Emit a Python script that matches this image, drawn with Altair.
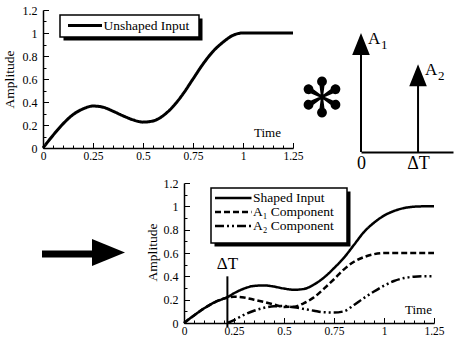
import math
import altair as alt
import pandas as pd

W, H = 474, 353
FONT = "Liberation Serif"

# ---------------- data ----------------
t_grid = [0, 0.05, 0.1, 0.15, 0.2, 0.25, 0.3, 0.35, 0.4, 0.45, 0.5, 0.55, 0.6,
          0.65, 0.7, 0.75, 0.8, 0.85, 0.9, 0.95, 1.0, 1.05, 1.1, 1.15, 1.2, 1.25]
unshaped = [0, 0.11, 0.21, 0.29, 0.34, 0.365, 0.355, 0.32, 0.28, 0.245, 0.225, 0.235, 0.28,
            0.36, 0.47, 0.60, 0.73, 0.84, 0.92, 0.98, 1.0, 1.0, 1.0, 1.0, 1.0, 1.0]

t_shaped = [0, 0.05, 0.1, 0.15, 0.2, 0.217, 0.25, 0.3, 0.35, 0.4, 0.45, 0.5, 0.55, 0.6,
            0.65, 0.7, 0.75, 0.8, 0.85, 0.9, 0.95, 1.0, 1.05, 1.1, 1.15, 1.2, 1.25]
shaped = [0, 0.065, 0.125, 0.175, 0.21, 0.222, 0.255, 0.295, 0.318, 0.322, 0.312, 0.295, 0.285, 0.292,
          0.33, 0.39, 0.47, 0.56, 0.67, 0.78, 0.86, 0.92, 0.96, 0.985, 0.997, 1.0, 1.0]

t_a1 = t_grid
a1 = [0, 0.065, 0.125, 0.175, 0.21, 0.225, 0.218, 0.2, 0.18, 0.158, 0.138, 0.14, 0.17,
      0.22, 0.295, 0.375, 0.46, 0.525, 0.565, 0.59, 0.6, 0.6, 0.6, 0.6, 0.6, 0.6]

t_a2 = [0.217, 0.25, 0.3, 0.35, 0.4, 0.45, 0.5, 0.55, 0.6, 0.65, 0.7, 0.75, 0.8,
        0.85, 0.9, 0.95, 1.0, 1.05, 1.1, 1.15, 1.2, 1.25]
a2 = [0, 0.025, 0.07, 0.105, 0.13, 0.143, 0.145, 0.135, 0.12, 0.105, 0.092, 0.09, 0.10,
      0.155, 0.215, 0.27, 0.32, 0.36, 0.385, 0.397, 0.4, 0.4]

delta_t = 0.217
impulse_t = [0, delta_t]
impulse_h = [1.0, 0.71]
impulse_sub = ["1", "2"]

x_major = [0, 0.25, 0.5, 0.75, 1.0, 1.25]
x_minor = [0.05, 0.1, 0.15, 0.2, 0.3, 0.35, 0.4, 0.45, 0.55, 0.6, 0.65, 0.7,
           0.8, 0.85, 0.9, 0.95, 1.05, 1.1, 1.15, 1.2]
y_major = [0, 0.2, 0.4, 0.6, 0.8, 1.0, 1.2]
y_minor = [0.1, 0.3, 0.5, 0.7, 0.9, 1.1]

legend_top = ["Unshaped Input"]
legend_bot = ["Shaped Input", "A₁ Component", "A₂ Component"]
dash_top = [[1, 0]]
dash_bot = [[1, 0], [6, 3], [9, 3, 2, 3, 2, 3]]

# ---------------- tables ----------------
top_df = pd.DataFrame({"t": t_grid, "amp": unshaped, "series": legend_top[0]})
bot_df = pd.concat([
    pd.DataFrame({"t": t_shaped, "amp": shaped, "series": legend_bot[0]}),
    pd.DataFrame({"t": t_a1, "amp": a1, "series": legend_bot[1]}),
    pd.DataFrame({"t": t_a2, "amp": a2, "series": legend_bot[2]}),
], ignore_index=True)
imp_df = pd.DataFrame({"t": impulse_t, "h": impulse_h, "sub": impulse_sub})
dt_df = pd.DataFrame({"t": [delta_t], "top": [0.40], "bottom": [-0.035]})
leg_top_df = pd.DataFrame({"series": legend_top, "row": list(range(len(legend_top)))})
leg_bot_df = pd.DataFrame({"series": legend_bot, "row": list(range(len(legend_bot)))})
dummy = pd.DataFrame({"k": [0]})

# ---------------- geometry ----------------
TOP_X, TOP_Y = [43, 293], [148, 10]
BOT_X, BOT_Y = [184, 434], [323, 183]
IMP_X, IMP_Y = [361, 453], [152, 44]
LABEL_EXPR = "'' + datum.value"


def sx(r):
    return alt.Scale(domain=[0, 1.25], range=r, nice=False, zero=False)


def sy(r):
    return alt.Scale(domain=[0, 1.2], range=r, nice=False, zero=False)


def axis_layers(df, xr, yr, time_xy, amp_xy):
    x0, y0 = xr[0], yr[0]
    base = alt.Chart(df).mark_line(opacity=0)
    major = base.encode(
        x=alt.X("t:Q", scale=sx(xr), axis=alt.Axis(
            orient="top", offset=-y0, values=x_major, labels=False, tickSize=5.5,
            tickWidth=1, domain=True, domainWidth=1.5, title=None)),
        y=alt.Y("amp:Q", scale=sy(yr), axis=alt.Axis(
            orient="right", offset=x0 - W, values=y_major, labels=False, tickSize=5.5,
            tickWidth=1, domain=True, domainWidth=1.5, title=None)),
    )
    minor = base.encode(
        x=alt.X("t:Q", scale=sx(xr), axis=alt.Axis(
            orient="top", offset=-y0, values=x_minor, labels=False, tickSize=3,
            tickWidth=1, domain=False, title=None)),
        y=alt.Y("amp:Q", scale=sy(yr), axis=alt.Axis(
            orient="right", offset=x0 - W, values=y_minor, labels=False, tickSize=3,
            tickWidth=1, domain=False, title=None)),
    )
    labels = base.encode(
        x=alt.X("t:Q", scale=sx(xr), axis=alt.Axis(
            orient="bottom", offset=y0 - H, values=x_major, labelExpr=LABEL_EXPR, ticks=False,
            domain=False, labelPadding=2, labelFlush=False, labelOverlap=False,
            labelFont=FONT, labelFontSize=11.5, title="Time", titleFont=FONT,
            titleX=time_xy[0], titleY=time_xy[1] - y0,
            titleBaseline="alphabetic", titleAlign="center", titleFontSize=13)),
        y=alt.Y("amp:Q", scale=sy(yr), axis=alt.Axis(
            orient="left", offset=-x0, values=y_major, labelExpr=LABEL_EXPR, ticks=False,
            domain=False, labelPadding=6, labelFont=FONT, labelFontSize=12, labelOverlap=False,
            title="Amplitude", titleFont=FONT, titleX=amp_xy[0] - x0, titleY=amp_xy[1],
            titleBaseline="alphabetic", titleAlign="center", titleFontSize=13.5)),
    )
    return [major, minor, labels]


def curve_layer(df, xr, yr, names, dashes, sw):
    return alt.Chart(df).mark_line(color="black", strokeWidth=sw, interpolate="monotone").encode(
        x=alt.X("t:Q", scale=sx(xr), axis=None),
        y=alt.Y("amp:Q", scale=sy(yr), axis=None),
        detail="series:N",
        strokeDash=alt.StrokeDash("series:N", scale=alt.Scale(domain=names, range=dashes),
                                  legend=None),
    )


def legend_layers(df, names, dashes, box, rows, sym_x, text_x, sw):
    """Boxed legend with a drop shadow: box = (x0, y0, x1, y1), rows = (first y, step)."""
    x0, y0, x1, y1 = box
    n = len(names)
    row_scale = alt.Scale(domain=[0, max(n - 1, 1)],
                          range=[rows[0], rows[0] + rows[1] * max(n - 1, 1)], nice=False, zero=False)
    shadow = alt.Chart(dummy).mark_rect(color="black").encode(
        x=alt.value(x0 + 3.5), x2=alt.value(x1 + 3.5), y=alt.value(y0 + 3.5), y2=alt.value(y1 + 3.5))
    frame = alt.Chart(dummy).mark_rect(fill="white", stroke="black", strokeWidth=1.5).encode(
        x=alt.value(x0), x2=alt.value(x1), y=alt.value(y0), y2=alt.value(y1))
    sym = alt.Chart(df).mark_rule(color="black", strokeWidth=sw).encode(
        x=alt.value(sym_x[0]), x2=alt.value(sym_x[1]),
        y=alt.Y("row:Q", scale=row_scale, axis=None),
        strokeDash=alt.StrokeDash("series:N", scale=alt.Scale(domain=names, range=dashes),
                                  legend=None),
    )
    txt = alt.Chart(df).mark_text(font=FONT, fontSize=13.5, align="left", baseline="middle",
                                  color="black").encode(
        x=alt.value(text_x),
        y=alt.Y("row:Q", scale=row_scale, axis=None),
        text="series:N",
    )
    return [shadow, frame, sym, txt]


# six-petal convolution asterisk, built as a symbol path
def petal_path():
    pts = []
    for k in range(6):
        a = math.radians(60 * k)
        c, s = math.cos(a), math.sin(a)

        def rot(x, y):
            return (x * c - y * s, x * s + y * c)
        q1 = rot(-0.05, 0)
        p1 = rot(-0.12, -0.55)
        p2 = rot(0.12, -0.55)
        q2 = rot(0.05, 0)
        pts.append("M%.3f,%.3fL%.3f,%.3fA0.24,0.24 0 1,1 %.3f,%.3fL%.3f,%.3fZ"
                   % (q1[0], q1[1], p1[0], p1[1], p2[0], p2[1], q2[0], q2[1]))
    return "".join(pts)


# delta T marker on the bottom plot
dt_rule = alt.Chart(dt_df).mark_rule(color="black", strokeWidth=2).encode(
    x=alt.X("t:Q", scale=sx(BOT_X), axis=None),
    y=alt.Y("bottom:Q", scale=sy(BOT_Y), axis=None),
    y2="top:Q",
)
dt_text = alt.Chart(dt_df).mark_text(text="ΔT", font=FONT, fontSize=17, baseline="alphabetic",
                                     dy=-7, color="black").encode(
    x=alt.X("t:Q", scale=sx(BOT_X), axis=None),
    y=alt.Y("top:Q", scale=sy(BOT_Y), axis=None),
)

# impulse diagram
imp_x = alt.Scale(domain=[0, 0.35], range=IMP_X, nice=False, zero=False)
imp_y = alt.Scale(domain=[0, 1.0], range=IMP_Y, nice=False, zero=False)
imp_rules = alt.Chart(imp_df).mark_rule(color="black", strokeWidth=2).encode(
    x=alt.X("t:Q", scale=imp_x, axis=alt.Axis(
        orient="bottom", offset=IMP_Y[0] - H, values=impulse_t,
        labelExpr="datum.value == 0 ? '0' : 'ΔT'", ticks=False, domain=True, domainWidth=2,
        labelFont=FONT, labelFontSize=18, labelPadding=2, labelFlush=False, labelOverlap=False,
        title=None)),
    y=alt.Y("h:Q", scale=imp_y, axis=None),
    y2=alt.datum(0),
)
imp_heads = alt.Chart(imp_df).mark_point(shape="M0,-1L-0.8,1L0.8,1Z", size=484, filled=True,
                                         opacity=1, color="black").encode(
    x=alt.X("t:Q", scale=imp_x, axis=None),
    y=alt.Y("h:Q", scale=imp_y, axis=None),
)
imp_a = alt.Chart(imp_df).mark_text(text="A", font=FONT, fontSize=17, align="left",
                                    baseline="alphabetic", dx=7, dy=0, color="black").encode(
    x=alt.X("t:Q", scale=imp_x, axis=None),
    y=alt.Y("h:Q", scale=imp_y, axis=None),
)
imp_sub = alt.Chart(imp_df).mark_text(font=FONT, fontSize=13, align="left",
                                      baseline="alphabetic", dx=20, dy=5, color="black").encode(
    x=alt.X("t:Q", scale=imp_x, axis=None),
    y=alt.Y("h:Q", scale=imp_y, axis=None),
    text="sub:N",
)

# convolution symbol and big arrow
asterisk = alt.Chart(dummy).mark_point(shape=petal_path(), size=1681, filled=True, opacity=1,
                                       color="black").encode(
    x=alt.value(322), y=alt.value(97))
arrow_shaft = alt.Chart(dummy).mark_rule(color="black", strokeWidth=7).encode(
    x=alt.value(42), x2=alt.value(96), y=alt.value(254))
arrow_head = alt.Chart(dummy).mark_point(shape="M-1,-0.82L1,0L-1,0.82Z", size=1089, filled=True,
                                         opacity=1, color="black").encode(
    x=alt.value(108.5), y=alt.value(252.5))

layers = []
layers.append(curve_layer(top_df, TOP_X, TOP_Y, legend_top, dash_top, 3))
layers.append(curve_layer(bot_df, BOT_X, BOT_Y, legend_bot, dash_bot, 2.5))
layers += [dt_rule, dt_text]
layers += axis_layers(top_df, TOP_X, TOP_Y, (267, 136), (13, 79))
layers += axis_layers(bot_df, BOT_X, BOT_Y, (418, 313.5), (156, 252))
layers += legend_layers(leg_top_df, legend_top, dash_top, (60, 15, 199, 37), (25.5, 14),
                        (68, 102), 103.5, 3)
layers += legend_layers(leg_bot_df, legend_bot, dash_bot, (211, 188, 347, 243), (198, 14),
                        (215, 251.5), 253, 2.5)
layers += [imp_rules, imp_heads, imp_a, imp_sub, asterisk, arrow_shaft, arrow_head]

chart = alt.layer(*layers).resolve_scale(
    x="independent", y="independent", strokeDash="independent"
).resolve_axis(
    x="independent", y="independent"
).properties(
    width=W, height=H, padding=0, autosize=alt.AutoSizeParams(type="none"), background="white"
).configure_view(
    stroke=None
).configure_axis(
    grid=False, domainColor="black", tickColor="black", labelColor="black", titleColor="black",
    labelFont=FONT, titleFont=FONT, titleFontWeight="normal"
)

chart.save("out.html", embed_options={"renderer": "svg", "actions": False})
